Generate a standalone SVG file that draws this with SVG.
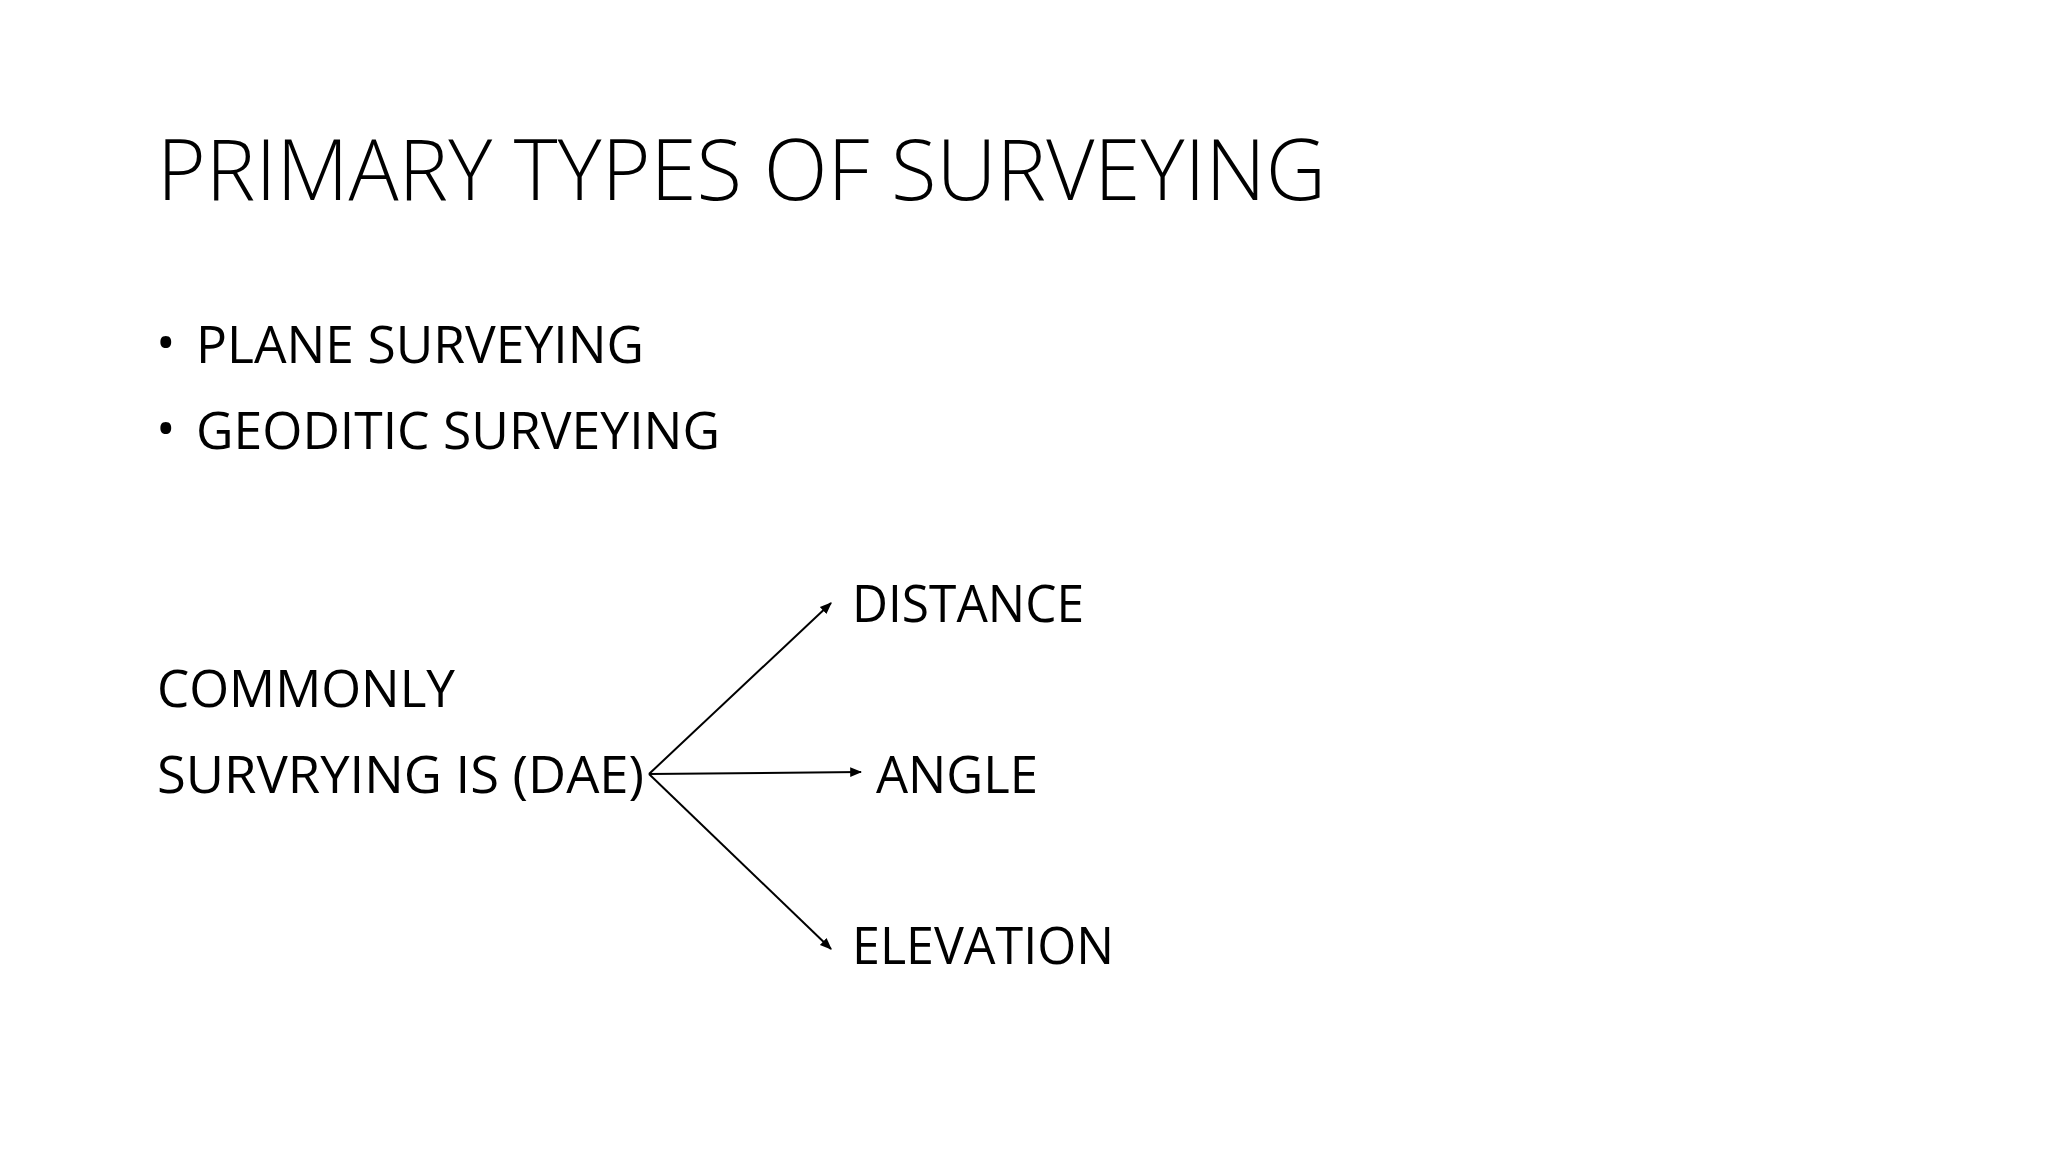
<svg xmlns="http://www.w3.org/2000/svg" width="2048" height="1152" viewBox="0 0 2048 1152">
<style>
text{font-family:"Open Sans","Liberation Sans",sans-serif;fill:#000}
.t{font-size:84px;font-weight:300}
.b{font-size:52px}
.c{stroke:#000;stroke-width:2;fill:none;marker-end:url(#a)}
</style>
<defs><marker id="a" viewBox="0 0 10 10" refX="9" refY="5" markerWidth="6" markerHeight="6" orient="auto"><path d="M0,1L10,5L0,9z" fill="#000"/></marker></defs>
<rect width="2048" height="1152" fill="#fff"/>
<g id="title"><text class="t" x="157" y="200" textLength="1169" lengthAdjust="spacingAndGlyphs">PRIMARY TYPES OF SURVEYING</text></g>
<g id="bullets">
<text class="b" x="156" y="361">•</text>
<text class="b" x="196" y="363" textLength="448" lengthAdjust="spacingAndGlyphs">PLANE SURVEYING</text>
<text class="b" x="156" y="447">•</text>
<text class="b" x="196" y="449" textLength="524" lengthAdjust="spacingAndGlyphs">GEODITIC SURVEYING</text>
</g>
<g id="source">
<text class="b" x="157" y="707" textLength="298" lengthAdjust="spacingAndGlyphs">COMMONLY</text>
<text class="b" x="157" y="793" textLength="487" lengthAdjust="spacingAndGlyphs">SURVRYING IS (DAE)</text>
</g>
<g id="distance"><text class="b" x="852" y="622" textLength="232" lengthAdjust="spacingAndGlyphs">DISTANCE</text></g>
<g id="angle"><text class="b" x="876" y="793" textLength="162" lengthAdjust="spacingAndGlyphs">ANGLE</text></g>
<g id="elevation"><text class="b" x="852" y="964" textLength="262" lengthAdjust="spacingAndGlyphs">ELEVATION</text></g>
<g id="connectors">
<line class="c" x1="649" y1="774" x2="831" y2="603"/>
<line class="c" x1="649" y1="774" x2="861" y2="772"/>
<line class="c" x1="649" y1="774" x2="831" y2="949"/>
</g>
</svg>
